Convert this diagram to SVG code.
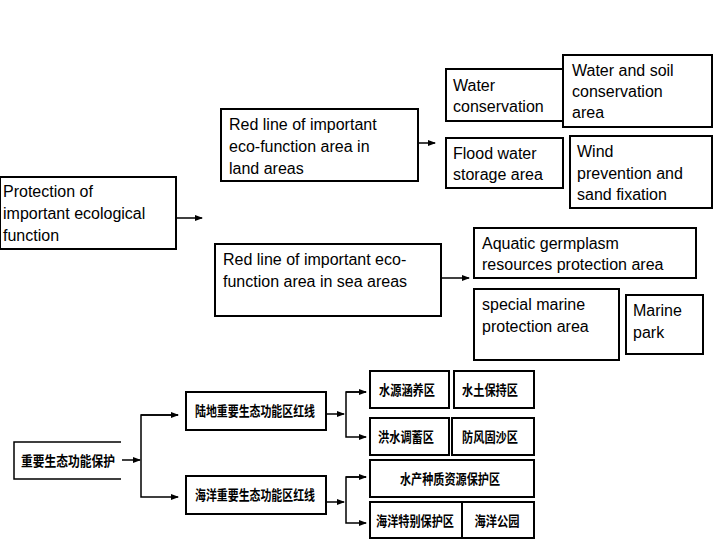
<svg xmlns="http://www.w3.org/2000/svg" width="720" height="540" viewBox="0 0 720 540">
<style>
.b{fill:#fff;stroke:#000;stroke-width:2}
.t{font-family:"Liberation Sans",Arial,sans-serif;font-size:16px;fill:#000}
.c{font-family:"Noto Sans CJK SC",sans-serif;font-size:14px;font-weight:bold;fill:#000;text-anchor:middle}
.l{fill:none;stroke:#000;stroke-width:1.5}
</style>
<defs><marker id="a" markerWidth="8" markerHeight="8" refX="7" refY="4" orient="auto" markerUnits="userSpaceOnUse"><path d="M0,1 L8,4 L0,7 Z" fill="#000"/></marker></defs>
<rect width="720" height="540" fill="#fff"/>
<g id="connectors">
<path class="l" d="M170,218 H202" marker-end="url(#a)"/>
<path class="l" d="M406,143 H435" marker-end="url(#a)"/>
<path class="l" d="M441,278 H469" marker-end="url(#a)"/>
<path class="l" d="M122,460 H140" marker-end="url(#a)"/>
<path class="l" d="M178,415 H141 V497 H178" marker-end="url(#a)"/>
<path class="l" d="M141,415 H178" marker-end="url(#a)"/>
<path class="l" d="M326,414 H344" marker-end="url(#a)"/>
<path class="l" d="M366,392 H346 V437 H366" marker-end="url(#a)"/>
<path class="l" d="M346,392 H366" marker-end="url(#a)"/>
<path class="l" d="M326,502 H344" marker-end="url(#a)"/>
<path class="l" d="M366,477 H346 V523 H366" marker-end="url(#a)"/>
<path class="l" d="M346,477 H366" marker-end="url(#a)"/>
</g>
<g id="n1"><rect class="b" x="0" y="177" width="176" height="72"/><text class="t" x="3" y="197">Protection of</text><text class="t" x="3" y="219">important ecological</text><text class="t" x="3" y="241">function</text></g>
<g id="n2"><rect class="b" x="221" y="109" width="197" height="72"/><text class="t" x="229" y="130">Red line of important</text><text class="t" x="229" y="152">eco-function area in</text><text class="t" x="229" y="174">land areas</text></g>
<g id="n3"><rect class="b" x="215" y="244" width="226" height="72"/><text class="t" x="223" y="265">Red line of important eco-</text><text class="t" x="223" y="287">function area in sea areas</text></g>
<g id="n4"><rect class="b" x="446" y="69" width="117" height="52"/><text class="t" x="453" y="91">Water</text><text class="t" x="453" y="112">conservation</text></g>
<g id="n5"><rect class="b" x="563" y="55" width="149" height="72"/><text class="t" x="572" y="76">Water and soil</text><text class="t" x="572" y="97">conservation</text><text class="t" x="572" y="118">area</text></g>
<g id="n6"><rect class="b" x="446" y="138" width="117" height="50"/><text class="t" x="453" y="159">Flood water</text><text class="t" x="453" y="180">storage area</text></g>
<g id="n7"><rect class="b" x="570" y="136" width="142" height="72"/><text class="t" x="577" y="157">Wind</text><text class="t" x="577" y="179">prevention and</text><text class="t" x="577" y="200">sand fixation</text></g>
<g id="n8"><rect class="b" x="474" y="228" width="222" height="50"/><text class="t" x="482" y="249">Aquatic germplasm</text><text class="t" x="482" y="270">resources protection area</text></g>
<g id="n9"><rect class="b" x="474" y="289" width="145" height="71"/><text class="t" x="482" y="310">special marine</text><text class="t" x="482" y="332">protection area</text></g>
<g id="n10"><rect class="b" x="626" y="295" width="77" height="59"/><text class="t" x="633" y="316">Marine</text><text class="t" x="633" y="338">park</text></g>
<g id="c1"><path fill="none" stroke="#000" stroke-width="1.5" d="M121,442 H14 V479 H121"/><text class="c" x="68" y="466" textLength="94" lengthAdjust="spacingAndGlyphs">重要生态功能保护</text></g>
<g id="c2"><rect class="b" x="186" y="392" width="140" height="38" stroke-width="1.5"/><text class="c" x="255" y="416" textLength="120" lengthAdjust="spacingAndGlyphs">陆地重要生态功能区红线</text></g>
<g id="c3"><rect class="b" x="186" y="476" width="140" height="38" stroke-width="1.5"/><text class="c" x="255" y="500" textLength="120" lengthAdjust="spacingAndGlyphs">海洋重要生态功能区红线</text></g>
<g id="c4"><rect class="b" x="370" y="371" width="79" height="37" stroke-width="1.5"/><text class="c" x="407" y="395" textLength="56" lengthAdjust="spacingAndGlyphs">水源涵养区</text></g>
<g id="c5"><rect class="b" x="454" y="371" width="80" height="37" stroke-width="1.5"/><text class="c" x="490" y="395" textLength="56" lengthAdjust="spacingAndGlyphs">水土保持区</text></g>
<g id="c6"><rect class="b" x="370" y="418" width="79" height="37" stroke-width="1.5"/><text class="c" x="406" y="442" textLength="56" lengthAdjust="spacingAndGlyphs">洪水调蓄区</text></g>
<g id="c7"><rect class="b" x="452" y="418" width="82" height="37" stroke-width="1.5"/><text class="c" x="490" y="442" textLength="56" lengthAdjust="spacingAndGlyphs">防风固沙区</text></g>
<g id="c8"><rect class="b" x="370" y="460" width="164" height="37" stroke-width="1.5"/><text class="c" x="450" y="484" textLength="100" lengthAdjust="spacingAndGlyphs">水产种质资源保护区</text></g>
<g id="c9"><rect class="b" x="370" y="502" width="92" height="36" stroke-width="1.5"/><text class="c" x="415" y="526" textLength="78" lengthAdjust="spacingAndGlyphs">海洋特别保护区</text></g>
<g id="c10"><rect class="b" x="462" y="502" width="72" height="36" stroke-width="1.5"/><text class="c" x="497" y="526" textLength="45" lengthAdjust="spacingAndGlyphs">海洋公园</text></g>
</svg>
